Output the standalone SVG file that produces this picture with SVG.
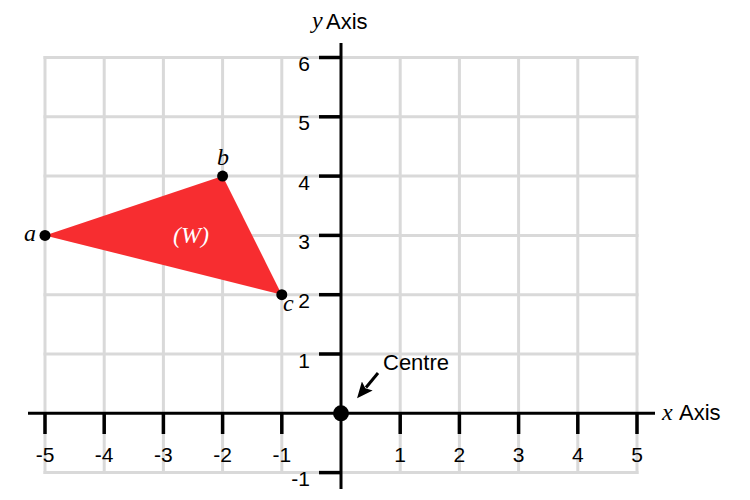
<svg xmlns="http://www.w3.org/2000/svg" width="750" height="500" viewBox="0 0 750 500">
<defs>
<style>
.grid line{stroke:#d9d9d9;stroke-width:3;stroke-linecap:square}
.ax{stroke:#000;stroke-width:3;fill:none}
.tick{stroke:#000;stroke-width:3.5}
.num{font-family:"Liberation Sans",Arial,sans-serif;font-size:21px;fill:#000}
.xl{text-anchor:middle}
.yl{text-anchor:end}
.it{font-family:"Liberation Serif","Times New Roman",serif;font-style:italic;font-size:24px;fill:#000}
.lbl{font-family:"Liberation Sans",Arial,sans-serif;font-size:22px;fill:#000}
</style>
<marker id="ah" markerWidth="16" markerHeight="14" refX="2" refY="7" orient="auto" markerUnits="userSpaceOnUse" viewBox="0 0 16 14">
<path d="M0,0 L16,7 L0,14 L3,7 Z" fill="#000"/>
</marker>
</defs>
<rect width="750" height="500" fill="#fff"/>
<g id="grid" class="grid">
<line x1="45" y1="57.5" x2="45" y2="472.6"/>
<line x1="104.2" y1="57.5" x2="104.2" y2="472.6"/>
<line x1="163.4" y1="57.5" x2="163.4" y2="472.6"/>
<line x1="222.6" y1="57.5" x2="222.6" y2="472.6"/>
<line x1="281.8" y1="57.5" x2="281.8" y2="472.6"/>
<line x1="400.2" y1="57.5" x2="400.2" y2="472.6"/>
<line x1="459.4" y1="57.5" x2="459.4" y2="472.6"/>
<line x1="518.6" y1="57.5" x2="518.6" y2="472.6"/>
<line x1="577.8" y1="57.5" x2="577.8" y2="472.6"/>
<line x1="637" y1="57.5" x2="637" y2="472.6"/>
<line x1="45" y1="57.5" x2="637" y2="57.5"/>
<line x1="45" y1="116.8" x2="637" y2="116.8"/>
<line x1="45" y1="176.1" x2="637" y2="176.1"/>
<line x1="45" y1="235.4" x2="637" y2="235.4"/>
<line x1="45" y1="294.7" x2="637" y2="294.7"/>
<line x1="45" y1="354" x2="637" y2="354"/>
<line x1="45" y1="472.6" x2="637" y2="472.6"/>
</g>
<g id="axes">
<line class="ax" x1="28" y1="413.3" x2="655" y2="413.3"/>
<line class="ax" x1="341" y1="43" x2="341" y2="489"/>
<g class="tick">
<line x1="45" y1="413.3" x2="45" y2="434"/>
<line x1="104.2" y1="413.3" x2="104.2" y2="434"/>
<line x1="163.4" y1="413.3" x2="163.4" y2="434"/>
<line x1="222.6" y1="413.3" x2="222.6" y2="434"/>
<line x1="281.8" y1="413.3" x2="281.8" y2="434"/>
<line x1="400.2" y1="413.3" x2="400.2" y2="434"/>
<line x1="459.4" y1="413.3" x2="459.4" y2="434"/>
<line x1="518.6" y1="413.3" x2="518.6" y2="434"/>
<line x1="577.8" y1="413.3" x2="577.8" y2="434"/>
<line x1="637" y1="413.3" x2="637" y2="434"/>
<line x1="319" y1="57.5" x2="341" y2="57.5"/>
<line x1="319" y1="116.8" x2="341" y2="116.8"/>
<line x1="319" y1="176.1" x2="341" y2="176.1"/>
<line x1="319" y1="235.4" x2="341" y2="235.4"/>
<line x1="319" y1="294.7" x2="341" y2="294.7"/>
<line x1="319" y1="354" x2="341" y2="354"/>
<line x1="319" y1="472.6" x2="341" y2="472.6"/>
</g>
<g class="num xl">
<text x="45" y="462">-5</text>
<text x="104.2" y="462">-4</text>
<text x="163.4" y="462">-3</text>
<text x="222.6" y="462">-2</text>
<text x="281.8" y="462">-1</text>
<text x="400.2" y="462">1</text>
<text x="459.4" y="462">2</text>
<text x="518.6" y="462">3</text>
<text x="577.8" y="462">4</text>
<text x="637" y="462">5</text>
</g>
<g class="num yl">
<text x="310" y="71">6</text>
<text x="310" y="130.3">5</text>
<text x="310" y="189.6">4</text>
<text x="310" y="248.9">3</text>
<text x="310" y="308.2">2</text>
<text x="310" y="367.5">1</text>
<text x="310" y="486">-1</text>
</g>
<text x="312" y="28" class="it">y</text>
<text x="326" y="29" class="lbl">Axis</text>
<text x="662" y="420" class="it">x</text>
<text x="679" y="420" class="lbl">Axis</text>
</g>
<g id="shape-W">
<polygon points="45,235.4 222.6,176.1 281.8,294.7" fill="#f72d30"/>
<text x="191" y="243" class="it" style="fill:#fff;font-size:24px" text-anchor="middle">(W)</text>
</g>
<g id="point-a">
<circle cx="45" cy="235.4" r="5.5" fill="#000"/>
<text x="24" y="241" class="it">a</text>
</g>
<g id="point-b">
<circle cx="222.6" cy="176.1" r="5.5" fill="#000"/>
<text x="223" y="165" class="it" text-anchor="middle">b</text>
</g>
<g id="point-c">
<circle cx="281.8" cy="294.7" r="5.5" fill="#000"/>
<text x="283" y="311" class="it">c</text>
</g>
<g id="centre">
<circle cx="341" cy="413.3" r="8" fill="#000"/>
<text x="383" y="370" class="lbl">Centre</text>
</g>
<g id="connectors">
<line x1="378" y1="373" x2="366" y2="387.5" stroke="#000" stroke-width="3" marker-end="url(#ah)"/>
</g>
</svg>
